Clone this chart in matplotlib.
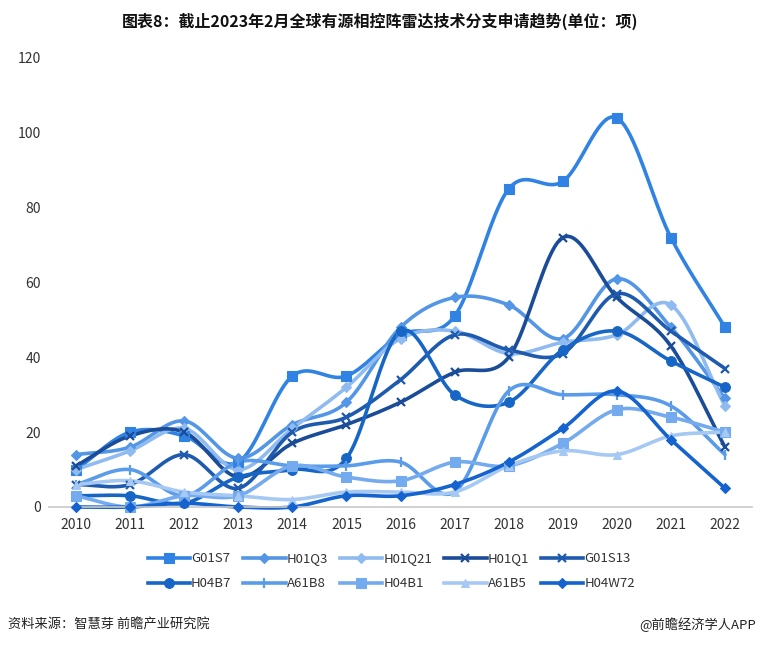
import numpy as np
import matplotlib
matplotlib.use("Agg")
import matplotlib.pyplot as plt
from matplotlib.lines import Line2D

plt.rcParams["font.family"] = ["Noto Sans CJK SC", "DejaVu Sans"]

years = ["2010", "2011", "2012", "2013", "2014", "2015", "2016",
         "2017", "2018", "2019", "2020", "2021", "2022"]

G01S7 = [10, 20, 19, 12, 35, 35, 46, 51, 85, 87, 104, 72, 48]
H01Q3 = [14, 16, 23, 13, 22, 28, 48, 56, 54, 45, 61, 48, 29]
H01Q21 = [10, 15, 21, 10, 21, 32, 45, 47, 41, 44, 46, 54, 27]
H01Q1 = [11, 19, 20, 8, 17, 22, 28, 36, 40, 72, 56, 43, 16]
G01S13 = [6, 6, 14, 5, 20, 24, 34, 46, 42, 41, 57, 47, 37]
H04B7 = [3, 3, 1, 8, 10, 13, 47, 30, 28, 42, 47, 39, 32]
A61B8 = [6, 10, 3, 12, 11, 11, 12, 4, 31, 30, 30, 27, 14]
H04B1 = [3, 0, 3, 3, 11, 8, 7, 12, 11, 17, 26, 24, 20]
A61B5 = [6, 7, 4, 3, 2, 4, 4, 4, 11, 15, 14, 19, 20]
H04W72 = [0, 0, 1, 0, 0, 3, 3, 6, 12, 21, 31, 18, 5]

series = [
    ("G01S7", G01S7, "#3083E3", "s", 7),
    ("H01Q3", H01Q3, "#5496E6", "D", 5),
    ("H01Q21", H01Q21, "#8FBBF0", "D", 5),
    ("H01Q1", H01Q1, "#1A4C98", "x", 6),
    ("G01S13", G01S13, "#1E5AAE", "x", 6),
    ("H04B7", H04B7, "#1766C6", "o", 7),
    ("A61B8", A61B8, "#5A9CE9", "|", 7),
    ("H04B1", H04B1, "#74AAEE", "s", 7),
    ("A61B5", A61B5, "#A6C9F4", "^", 6),
    ("H04W72", H04W72, "#1563CE", "D", 5),
]


def smooth(x, y, n=20):
    # catmull-rom style curve through the points, like Excel's smoothed lines
    x = np.asarray(x, float)
    y = np.asarray(y, float)
    px = np.concatenate([[2 * x[0] - x[1]], x, [2 * x[-1] - x[-2]]])
    py = np.concatenate([[2 * y[0] - y[1]], y, [2 * y[-1] - y[-2]]])
    xs, ys = [], []
    t = np.linspace(0, 1, n, endpoint=False)
    for i in range(1, len(px) - 2):
        p0, p1, p2, p3 = py[i - 1], py[i], py[i + 1], py[i + 2]
        q0, q1, q2, q3 = px[i - 1], px[i], px[i + 1], px[i + 2]
        for arr, a0, a1, a2, a3 in ((xs, q0, q1, q2, q3), (ys, p0, p1, p2, p3)):
            arr.extend(0.5 * (2 * a1 + (-a0 + a2) * t
                              + (2 * a0 - 5 * a1 + 4 * a2 - a3) * t ** 2
                              + (-a0 + 3 * a1 - 3 * a2 + a3) * t ** 3))
    xs.append(x[-1])
    ys.append(y[-1])
    return np.array(xs), np.array(ys)


fig = plt.figure(figsize=(7.6, 6.47), dpi=100)
ax = fig.add_axes([0.0645, 0.2164, 0.925, 0.694])

xpos = np.arange(len(years))
handles = []
for name, vals, color, marker, ms in series:
    sx, sy = smooth(xpos, vals)
    ax.plot(sx, sy, color=color, linewidth=2.6, solid_capstyle="round",
            clip_on=False, zorder=2)
    mew = 1.6 if marker in ("x", "|") else 0.8
    ax.plot(xpos, vals, linestyle="none", marker=marker, markersize=ms,
            color=color, markeredgecolor=color, markeredgewidth=mew,
            clip_on=False, zorder=3)
    handles.append(Line2D([], [], color=color, linewidth=2.6, marker=marker,
                          markersize=ms, markeredgewidth=mew,
                          markeredgecolor=color, label=name))

ax.set_xlim(-0.5, len(years) - 0.5)
ax.set_ylim(0, 120)
ax.set_xticks(xpos)
ax.set_xticklabels(years)
ax.set_yticks([0, 20, 40, 60, 80, 100, 120])
ax.tick_params(length=0, labelsize=10, colors="#333333", pad=6)
ax.tick_params(axis="x", pad=8)
for sp in ["top", "right", "left"]:
    ax.spines[sp].set_visible(False)
ax.spines["bottom"].set_color("#c8c8c8")
ax.spines["bottom"].set_linewidth(1.2)

# legend fills column by column, so interleave the two rows
leg_order = [h for pair in zip(handles[:5], handles[5:]) for h in pair]
fig.legend(handles=leg_order, ncol=5, loc="center", bbox_to_anchor=(0.515, 0.117),
           frameon=False, fontsize=9.5, handlelength=3.2, handletextpad=0.1,
           columnspacing=0.9, labelspacing=0.9, labelcolor="#333333")

fig.text(0.5, 0.967, "图表8：截止2023年2月全球有源相控阵雷达技术分支申请趋势(单位：项)",
         ha="center", va="center", fontsize=11.5, fontweight="bold", color="#111111")
fig.text(0.01, 0.035, "资料来源：智慧芽 前瞻产业研究院", ha="left", va="center",
         fontsize=9.5, color="#222222")
fig.text(0.995, 0.035, "@前瞻经济学人APP", ha="right", va="center",
         fontsize=9.5, color="#222222")

fig.savefig("out.png", dpi=100)
